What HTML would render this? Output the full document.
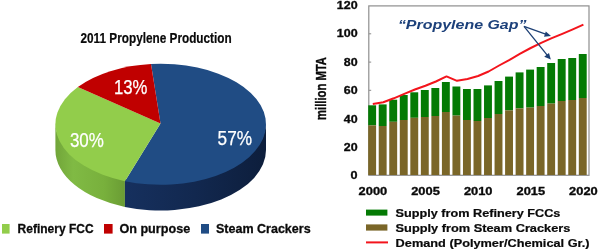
<!DOCTYPE html>
<html lang="en">
<head>
<meta charset="utf-8">
<title>Propylene Production and Propylene Gap</title>
<style>
html,body{margin:0;padding:0;background:#fff;}
body{width:599px;height:250px;overflow:hidden;}
svg{display:block;}
text{font-family:"Liberation Sans",Arial,Helvetica,sans-serif;}
.b{font-weight:bold;}
</style>
</head>
<body>
<svg width="599" height="250" viewBox="0 0 599 250">
<defs>
<linearGradient id="gs" x1="56" y1="0" x2="125" y2="0" gradientUnits="userSpaceOnUse">
<stop offset="0" stop-color="#72a63a"/>
<stop offset="0.25" stop-color="#80ba44"/>
<stop offset="0.7" stop-color="#78b03c"/>
<stop offset="1" stop-color="#6a9c34"/>
</linearGradient>
<linearGradient id="bs" x1="125" y1="0" x2="265" y2="0" gradientUnits="userSpaceOnUse">
<stop offset="0" stop-color="#16305e"/>
<stop offset="0.5" stop-color="#12284f"/>
<stop offset="1" stop-color="#0d1e3c"/>
</linearGradient>
</defs>
<rect width="599" height="250" fill="#ffffff"/>
<!-- pie -->
<path d="M124.93,179.20 A105.3,60.5 0 0 1 55.40,122.30 L55.40,150.00 A105.3,60.5 0 0 0 124.93,206.90 Z" fill="url(#gs)"/>
<path d="M266.00,122.30 A105.3,60.5 0 0 1 124.93,179.20 L124.93,206.90 A105.3,60.5 0 0 0 266.00,150.00 Z" fill="url(#bs)"/>
<path d="M160.50,123.60 L150.99,64.06 A105.3,60.5 0 1 1 124.93,181.20 Z" fill="#204c84"/>
<path d="M160.50,123.60 L124.93,181.20 A105.3,60.5 0 0 1 77.84,86.97 Z" fill="#92cd4b"/>
<path d="M160.50,123.60 L77.84,86.97 A105.3,60.5 0 0 1 150.99,64.06 Z" fill="#c00000"/>
<text class="b" x="80.5" y="42.6" font-size="14" textLength="151.2" lengthAdjust="spacingAndGlyphs" fill="#0a0a0a" stroke="#0a0a0a" stroke-width="0.2">2011 Propylene Production</text>
<g fill="#ffffff" font-size="20.7" stroke="#ffffff" stroke-width="0.25">
<text x="113.9" y="93.5" textLength="33.5" lengthAdjust="spacingAndGlyphs">13%</text>
<text x="69.9" y="146.8" textLength="34" lengthAdjust="spacingAndGlyphs">30%</text>
<text x="217.6" y="144.5" textLength="34.5" lengthAdjust="spacingAndGlyphs">57%</text>
</g>
<!-- pie legend -->
<rect x="2" y="224" width="7.6" height="9.6" fill="#92cd4b"/>
<rect x="104" y="224" width="8.6" height="9.6" fill="#c00000"/>
<rect x="201" y="224" width="8" height="9.6" fill="#204c84"/>
<g class="b" font-size="13.4" fill="#0a0a0a" stroke="#0a0a0a" stroke-width="0.3">
<text x="17.6" y="233.4" textLength="76" lengthAdjust="spacingAndGlyphs">Refinery FCC</text>
<text x="119.4" y="233.4" textLength="70.8" lengthAdjust="spacingAndGlyphs">On purpose</text>
<text x="216" y="233.4" textLength="94.6" lengthAdjust="spacingAndGlyphs">Steam Crackers</text>
</g>
<!-- bar chart -->
<rect x="368.8" y="5.9" width="220.2" height="169.4" fill="#fff" stroke="#8e8e8e" stroke-width="1.2"/>
<line x1="368.9" y1="33.8" x2="371.2" y2="33.8" stroke="#8a8a8a" stroke-width="1"/><line x1="368.9" y1="62.1" x2="371.2" y2="62.1" stroke="#8a8a8a" stroke-width="1"/><line x1="368.9" y1="90.3" x2="371.2" y2="90.3" stroke="#8a8a8a" stroke-width="1"/><line x1="368.9" y1="118.5" x2="371.2" y2="118.5" stroke="#8a8a8a" stroke-width="1"/><line x1="368.9" y1="146.8" x2="371.2" y2="146.8" stroke="#8a8a8a" stroke-width="1"/>
<rect x="368.20" y="105.3" width="7.9" height="20.1" fill="#047a04"/><rect x="368.20" y="125.4" width="7.9" height="49.6" fill="#7a6628"/><rect x="378.73" y="104.4" width="7.9" height="21.6" fill="#047a04"/><rect x="378.73" y="126.0" width="7.9" height="49.0" fill="#7a6628"/><rect x="389.26" y="99.7" width="7.9" height="22.1" fill="#047a04"/><rect x="389.26" y="121.8" width="7.9" height="53.2" fill="#7a6628"/><rect x="399.79" y="95.0" width="7.9" height="25.0" fill="#047a04"/><rect x="399.79" y="120.0" width="7.9" height="55.0" fill="#7a6628"/><rect x="410.32" y="92.3" width="7.9" height="25.5" fill="#047a04"/><rect x="410.32" y="117.8" width="7.9" height="57.2" fill="#7a6628"/><rect x="420.85" y="90.0" width="7.9" height="27.0" fill="#047a04"/><rect x="420.85" y="117.0" width="7.9" height="58.0" fill="#7a6628"/><rect x="431.38" y="88.0" width="7.9" height="28.0" fill="#047a04"/><rect x="431.38" y="116.0" width="7.9" height="59.0" fill="#7a6628"/><rect x="441.91" y="82.0" width="7.9" height="30.0" fill="#047a04"/><rect x="441.91" y="112.0" width="7.9" height="63.0" fill="#7a6628"/><rect x="452.44" y="86.5" width="7.9" height="29.1" fill="#047a04"/><rect x="452.44" y="115.6" width="7.9" height="59.4" fill="#7a6628"/><rect x="462.97" y="89.0" width="7.9" height="31.0" fill="#047a04"/><rect x="462.97" y="120.0" width="7.9" height="55.0" fill="#7a6628"/><rect x="473.50" y="89.0" width="7.9" height="32.0" fill="#047a04"/><rect x="473.50" y="121.0" width="7.9" height="54.0" fill="#7a6628"/><rect x="484.03" y="85.4" width="7.9" height="32.6" fill="#047a04"/><rect x="484.03" y="118.0" width="7.9" height="57.0" fill="#7a6628"/><rect x="494.56" y="81.0" width="7.9" height="33.0" fill="#047a04"/><rect x="494.56" y="114.0" width="7.9" height="61.0" fill="#7a6628"/><rect x="505.09" y="76.6" width="7.9" height="33.8" fill="#047a04"/><rect x="505.09" y="110.4" width="7.9" height="64.6" fill="#7a6628"/><rect x="515.62" y="72.4" width="7.9" height="36.0" fill="#047a04"/><rect x="515.62" y="108.4" width="7.9" height="66.6" fill="#7a6628"/><rect x="526.15" y="69.6" width="7.9" height="38.0" fill="#047a04"/><rect x="526.15" y="107.6" width="7.9" height="67.4" fill="#7a6628"/><rect x="536.68" y="67.0" width="7.9" height="39.0" fill="#047a04"/><rect x="536.68" y="106.0" width="7.9" height="69.0" fill="#7a6628"/><rect x="547.21" y="63.0" width="7.9" height="40.6" fill="#047a04"/><rect x="547.21" y="103.6" width="7.9" height="71.4" fill="#7a6628"/><rect x="557.74" y="59.0" width="7.9" height="42.0" fill="#047a04"/><rect x="557.74" y="101.0" width="7.9" height="74.0" fill="#7a6628"/><rect x="568.27" y="58.0" width="7.9" height="42.0" fill="#047a04"/><rect x="568.27" y="100.0" width="7.9" height="75.0" fill="#7a6628"/><rect x="578.80" y="54.0" width="7.9" height="44.0" fill="#047a04"/><rect x="578.80" y="98.0" width="7.9" height="77.0" fill="#7a6628"/>
<polyline points="372.8,104.0 383.3,102.3 393.8,98.3 404.3,93.8 414.9,89.5 425.4,85.8 435.9,81.5 446.5,76.4 457.0,80.8 467.5,79.0 478.1,76.0 488.6,71.5 499.1,65.5 509.6,59.8 520.2,53.7 530.7,48.0 541.2,42.9 551.8,38.2 562.3,33.8 572.8,29.3 583.4,24.6" fill="none" stroke="#f3141c" stroke-width="2" stroke-linejoin="round" stroke-linecap="butt"/>
<g class="b" font-size="10" fill="#0a0a0a" stroke="#0a0a0a" stroke-width="0.3">
<text x="336.8" y="9.0" textLength="20.8" lengthAdjust="spacingAndGlyphs">120</text><text x="336.8" y="37.4" textLength="20.8" lengthAdjust="spacingAndGlyphs">100</text><text x="343.8" y="65.7" textLength="13.8" lengthAdjust="spacingAndGlyphs">80</text><text x="343.8" y="94.1" textLength="13.8" lengthAdjust="spacingAndGlyphs">60</text><text x="343.8" y="122.5" textLength="13.8" lengthAdjust="spacingAndGlyphs">40</text><text x="343.8" y="150.8" textLength="13.8" lengthAdjust="spacingAndGlyphs">20</text><text x="350.6" y="179.2" textLength="7.0" lengthAdjust="spacingAndGlyphs">0</text>
<text x="358.6" y="194.6" textLength="28.6" lengthAdjust="spacingAndGlyphs">2000</text><text x="411.2" y="194.6" textLength="28.6" lengthAdjust="spacingAndGlyphs">2005</text><text x="463.9" y="194.6" textLength="28.6" lengthAdjust="spacingAndGlyphs">2010</text><text x="516.5" y="194.6" textLength="28.6" lengthAdjust="spacingAndGlyphs">2015</text><text x="569.1" y="194.6" textLength="28.6" lengthAdjust="spacingAndGlyphs">2020</text>
</g>
<text class="b" font-size="13.5" fill="#0a0a0a" stroke="#0a0a0a" stroke-width="0.35" transform="translate(326,120) rotate(-90) scale(1,1.05)" textLength="63" lengthAdjust="spacingAndGlyphs">million MTA</text>
<text class="b" font-size="13.6" font-style="italic" fill="#1c407a" x="397.9" y="28.8" textLength="128.6" lengthAdjust="spacingAndGlyphs">“Propylene Gap”</text>
<g stroke="#1c3f74" stroke-width="1.3" fill="#1c3f74">
<line x1="524" y1="26.4" x2="547" y2="34.6"/>
<polygon points="551,36 544,36.8 545.8,31.6" stroke="none"/>
<line x1="524" y1="26.4" x2="548.4" y2="56.6"/>
<polygon points="550.8,59.6 544.2,56.8 549,53" stroke="none"/>
</g>
<!-- bar legend -->
<rect x="366" y="209.6" width="21.4" height="6" fill="#047a04"/>
<rect x="366" y="224.4" width="21.4" height="6.2" fill="#7a6628"/>
<line x1="366" y1="242.4" x2="388" y2="242.4" stroke="#f3141c" stroke-width="2"/>
<g class="b" font-size="10.6" fill="#0a0a0a" stroke="#0a0a0a" stroke-width="0.2">
<text x="395.6" y="217.1" textLength="164.8" lengthAdjust="spacingAndGlyphs">Supply from Refinery FCCs</text>
<text x="395.6" y="232.1" textLength="174.8" lengthAdjust="spacingAndGlyphs">Supply from Steam Crackers</text>
<text x="395.6" y="247.1" textLength="194" lengthAdjust="spacingAndGlyphs">Demand (Polymer/Chemical Gr.)</text>
</g>
</svg>
</body>
</html>
